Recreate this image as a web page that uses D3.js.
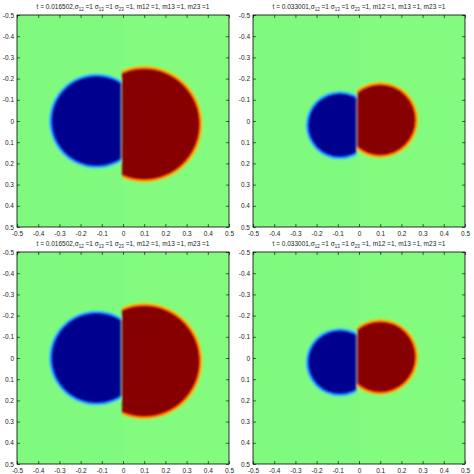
<!DOCTYPE html>
<html><head><meta charset="utf-8">
<script src="https://cdn.jsdelivr.net/npm/d3@7"></script>
<style>body{margin:0;background:#fff}text{font-family:"Liberation Sans",Arial,sans-serif}</style>
</head><body><svg width="474" height="474"></svg>
<script>
const ticks = [-0.5, -0.4, -0.3, -0.2, -0.1, 0, 0.1, 0.2, 0.3, 0.4, 0.5];
const times = ["0.016502", "0.033001", "0.016502", "0.033001"];
const panelX = [17, 253, 17, 253];
const panelY = [15, 15, 252, 252];
// phase blobs per panel: [cx, cy, r] in data units, split at divider
const blueBlob = [[-0.125, 0.0, 0.21], [-0.09, 0.02, 0.148], [-0.125, 0.0, 0.21], [-0.09, 0.02, 0.148]];
const redBlob = [[0.1, 0.015, 0.26], [0.1, -0.005, 0.165], [0.1, 0.015, 0.26], [0.1, -0.005, 0.165]];
const divider = [-0.008, -0.01, -0.008, -0.01];
const blueRings = [["#40d0ff", 0.014], ["#0040ff", 0.007], ["#00008f", 0]];
const redRings = [["#ffd000", 0.014], ["#ff3000", 0.007], ["#870000", 0]];

const svg = d3.select("svg");
const size = 212;
const defs = svg.append("defs");
defs.append("filter").attr("id", "soft").append("feGaussianBlur").attr("stdDeviation", 1.1);

times.forEach((t, i) => {
    const x = d3.scaleLinear().domain([-0.5, 0.5]).range([0, size]);
    const y = d3.scaleLinear().domain([-0.5, 0.5]).range([0, size]);
    const g = svg.append("g").attr("transform", `translate(${panelX[i]},${panelY[i]})`);

    defs.append("clipPath").attr("id", "pc" + i).append("rect").attr("width", size).attr("height", size);
    defs.append("clipPath").attr("id", "lc" + i).append("rect")
        .attr("x", -10).attr("y", -10).attr("width", x(divider[i]) - 0.6 + 10).attr("height", size + 20);
    defs.append("clipPath").attr("id", "rc" + i).append("rect")
        .attr("x", x(divider[i]) + 0.6).attr("y", -10).attr("width", size).attr("height", size + 20);

    const field = g.append("g").attr("clip-path", `url(#pc${i})`);
    field.append("rect").attr("width", size).attr("height", size).attr("fill", "#82fb7e");
    field.append("rect").attr("x", x(-0.5)).attr("width", x(0) - x(-0.5)).attr("height", size).attr("fill", "#7ef880").attr("opacity", 0.6);

    const blobs = field.append("g").attr("filter", "url(#soft)");
    const left = blobs.append("g").attr("clip-path", `url(#lc${i})`);
    left.selectAll("circle").data(blueRings).join("circle")
        .attr("cx", x(blueBlob[i][0])).attr("cy", y(blueBlob[i][1]))
        .attr("r", d => x(blueBlob[i][2] + d[1]) - x(0)).attr("fill", d => d[0]);
    const right = blobs.append("g").attr("clip-path", `url(#rc${i})`);
    right.selectAll("circle").data(redRings).join("circle")
        .attr("cx", x(redBlob[i][0])).attr("cy", y(redBlob[i][1]))
        .attr("r", d => x(redBlob[i][2] + d[1]) - x(0)).attr("fill", d => d[0]);

    g.append("rect").attr("width", size).attr("height", size).attr("fill", "none").attr("stroke", "#000").attr("stroke-width", 0.8);

    const fmt = d => d === 0 ? "0" : String(d).replace("0.", ".").replace("-.", "-0.").replace(/^\./, "0.");
    const ax = g.append("g").attr("transform", `translate(0,${size})`)
        .call(d3.axisBottom(x).tickValues(ticks).tickFormat(fmt).tickSize(-3).tickPadding(4));
    const ay = g.append("g").call(d3.axisLeft(y).tickValues(ticks).tickFormat(fmt).tickSize(-3).tickPadding(3));
    g.append("g").call(d3.axisTop(x).tickValues(ticks).tickFormat("").tickSize(-3));
    g.append("g").attr("transform", `translate(${size},0)`).call(d3.axisRight(y).tickValues(ticks).tickFormat("").tickSize(-3));
    g.selectAll(".domain").remove();
    g.selectAll(".tick line").attr("stroke", "#000").attr("stroke-width", 0.6);
    g.selectAll(".tick text").attr("font-size", 6.5).attr("fill", "#222");

    const title = g.append("text").attr("x", size / 2).attr("y", -6).attr("text-anchor", "middle")
        .attr("font-size", 6.5).attr("fill", "#222");
    title.append("tspan").text(`t = ${t},σ`);
    title.append("tspan").attr("font-size", 4.5).attr("dy", 2).text("12");
    title.append("tspan").attr("dy", -2).text(" =1  σ");
    title.append("tspan").attr("font-size", 4.5).attr("dy", 2).text("13");
    title.append("tspan").attr("dy", -2).text(" =1  σ");
    title.append("tspan").attr("font-size", 4.5).attr("dy", 2).text("23");
    title.append("tspan").attr("dy", -2).text(" =1,  m12 =1,  m13 =1,  m23 =1");
});
</script></body></html>
